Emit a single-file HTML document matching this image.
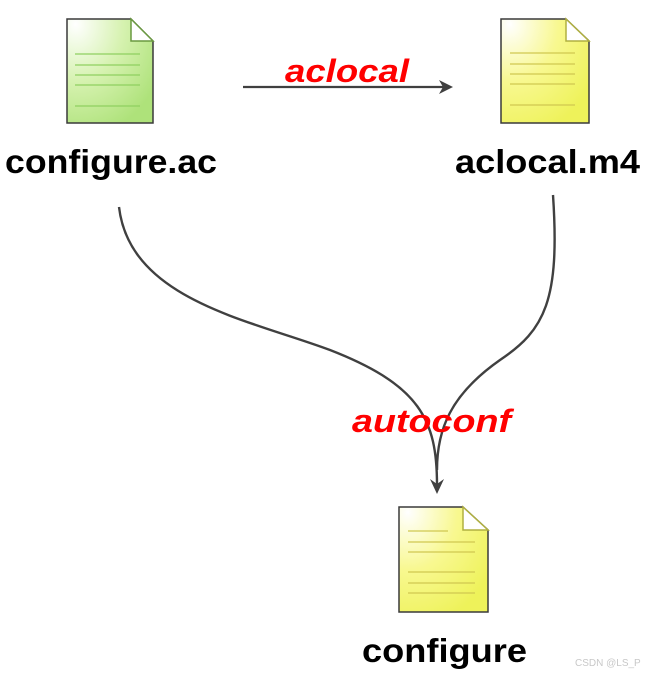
<!DOCTYPE html>
<html><head><meta charset="utf-8"><style>
html,body{margin:0;padding:0;background:#fff;width:648px;height:674px;overflow:hidden}
svg{display:block}
text{font-family:"Liberation Sans",sans-serif;font-weight:bold}
</style></head><body>
<svg width="648" height="674" viewBox="0 0 648 674" xmlns="http://www.w3.org/2000/svg">
<defs>
<radialGradient id="g" cx="0.1" cy="0.05" r="1.1">
<stop offset="0" stop-color="#ffffff"/><stop offset="0.5" stop-color="#d6f2b0"/><stop offset="1" stop-color="#aee27a"/>
</radialGradient>
<radialGradient id="y" cx="0.1" cy="0.05" r="1.1">
<stop offset="0" stop-color="#ffffff"/><stop offset="0.5" stop-color="#f8f890"/><stop offset="1" stop-color="#eef25a"/>
</radialGradient>
</defs>
<!-- green doc -->
<path d="M67,19 H131 L153,41 V123 H67 Z" fill="url(#g)" stroke="#3a3a3a" stroke-width="1.5"/>
<path d="M131,19 V41 H153 Z" fill="#fff" stroke="#6a9a40" stroke-width="1.5"/>
<g stroke="#8fd060" stroke-width="1.2"><line x1="75" y1="54" x2="140" y2="54"/><line x1="75" y1="65" x2="140" y2="65"/><line x1="75" y1="75" x2="140" y2="75"/><line x1="75" y1="85" x2="140" y2="85"/><line x1="75" y1="106" x2="140" y2="106"/></g>
<!-- yellow doc 1 -->
<path d="M501,19 H566 L589,41 V123 H501 Z" fill="url(#y)" stroke="#3a3a3a" stroke-width="1.5"/>
<path d="M566,19 V41 H589 Z" fill="#fff" stroke="#b0b040" stroke-width="1.5"/>
<g stroke="#d0c850" stroke-width="1.2"><line x1="510" y1="53" x2="575" y2="53"/><line x1="510" y1="64" x2="575" y2="64"/><line x1="510" y1="74" x2="575" y2="74"/><line x1="510" y1="84" x2="575" y2="84"/><line x1="510" y1="105" x2="575" y2="105"/></g>
<!-- yellow doc 2 -->
<path d="M399,507 H463 L488,530 V612 H399 Z" fill="url(#y)" stroke="#3a3a3a" stroke-width="1.5"/>
<path d="M463,507 V530 H488 Z" fill="#fff" stroke="#b0b040" stroke-width="1.5"/>
<g stroke="#d0c850" stroke-width="1.2"><line x1="408" y1="531" x2="448" y2="531"/><line x1="408" y1="542" x2="475" y2="542"/><line x1="408" y1="552" x2="475" y2="552"/><line x1="408" y1="572" x2="475" y2="572"/><line x1="408" y1="583" x2="475" y2="583"/><line x1="408" y1="593" x2="475" y2="593"/></g>
<!-- connectors -->
<line x1="243" y1="87" x2="445" y2="87" stroke="#404040" stroke-width="2.2"/>
<path d="M453,87 L439,80 L443,87 L439,94 Z" fill="#404040"/>
<path d="M119,207 C130,300 250,320 330,350 C420,385 437,420 437,485" fill="none" stroke="#404040" stroke-width="2.4"/>
<path d="M553,195 C560,300 545,330 500,360 C450,395 437,430 437,470" fill="none" stroke="#404040" stroke-width="2.4"/>
<path d="M437,494 L430,479 L437,484 L444,479 Z" fill="#404040"/>
<!-- labels -->
<text x="5" y="173" font-size="33" textLength="212" lengthAdjust="spacingAndGlyphs" fill="#000">configure.ac</text>
<text x="455" y="173" font-size="33" textLength="185" lengthAdjust="spacingAndGlyphs" fill="#000">aclocal.m4</text>
<text x="362" y="662" font-size="33" textLength="165" lengthAdjust="spacingAndGlyphs" fill="#000">configure</text>
<text x="285" y="82" font-size="32" font-style="italic" textLength="124" lengthAdjust="spacingAndGlyphs" fill="#ff0000">aclocal</text>
<text x="352" y="432" font-size="32" font-style="italic" textLength="159" lengthAdjust="spacingAndGlyphs" fill="#ff0000">autoconf</text>
<text x="575" y="666" font-size="10" style="font-weight:normal" fill="#c8c8c8">CSDN @LS_P</text>
</svg>
</body></html>
